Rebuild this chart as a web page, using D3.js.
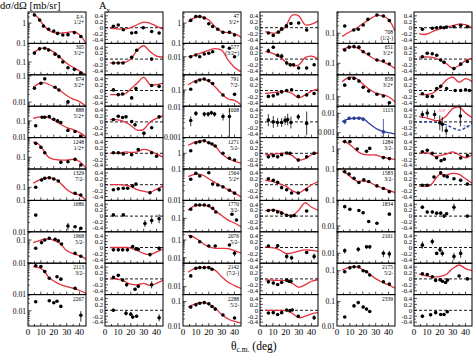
<!DOCTYPE html>
<html>
<head>
<meta charset="utf-8">
<script src="https://cdn.jsdelivr.net/npm/d3@7"></script>
<style>
  body { margin: 0; background: #fff; }
  svg { display: block; font-family: "Liberation Serif", "DejaVu Serif", serif; }
</style>
</head>
<body>
<svg id="fig" width="474" height="354"></svg>
<script>
// angles and tick labels
const angleTicks = [0, 10, 20, 30, 40];
const fitAngles = [4, 8, 12, 16, 20, 25, 30, 35, 40, 45];
const ayTicks = [0.4, 0.2, 0, -0.2, -0.4];

// ---------- column group A ----------
const labelsA = [["g.s.", "1/2+"], ["305", "3/2+"], ["674", "3/2+"], ["888", "5/2+"], ["1248", "1/2+"],
  ["1329", "7/2-"], ["1686", ""], ["1968", "5/2-"], ["2113", "3/2-"], ["2267", ""]];
const xsDomainA = [[0.1, 3.5], [0.032, 0.52], [0.007, 0.11], [0.01, 0.76], [0.026, 0.97],
  [0.03, 0.54], [0.01, 0.1], [0.01, 0.225], [0.01, 0.1], [0.0025, 0.044]];
const xsTicksA = [[1, 0.1], [0.1], [0.1, 0.01], [0.1, 0.01], [0.1], [0.1], [0.1, 0.01], [0.1, 0.01], [0.01], [0.01]];
const xsDataA = [
  [[5, 2.5], [9, 1.4], [12, 0.71], [16, 0.5], [20, 0.41], [23, 0.31], [27, 0.26], [31, 0.27], [36, 0.34], [41, 0.22]],
  [[5, 0.22], [9, 0.32], [13, 0.34], [16, 0.29], [21, 0.2], [24, 0.16], [27, 0.1], [31, 0.06], [36, 0.052], [41, 0.037]],
  [[5, 0.034], [10, 0.052], [13, 0.077], [21, 0.037], [24, 0.029], [31, 0.0102, 0.002]],
  [[6, 0.051], [11, 0.165], [13, 0.165], [16.5, 0.18], [20, 0.125], [23, 0.1], [25.5, 0.08], [31, 0.027], [36.5, 0.023], [41, 0.012]],
  [[6, 0.5], [10, 0.32], [13, 0.17], [25.5, 0.056], [31, 0.06], [36.5, 0.079], [41, 0.041]],
  [[6, 0.1], [10.5, 0.195], [13, 0.23], [16.5, 0.24], [20, 0.215], [23.5, 0.18], [36.5, 0.058], [41, 0.049]],
  [[6, 0.034], [31, 0.0153, 0.004], [36.5, 0.0145], [41, 0.0129]],
  [[6, 0.044], [10.5, 0.077], [13, 0.1], [16.5, 0.118], [21, 0.107], [23.5, 0.093], [26, 0.067], [36.5, 0.027], [41, 0.02]],
  [[6, 0.083], [10, 0.078], [13, 0.054], [16.5, 0.033], [22.5, 0.037], [25.5, 0.031], [36.5, 0.016]],
  [[6, 0.023], [16.5, 0.025], [20, 0.021], [22.5, 0.024], [25.5, 0.015], [41, 0.0067, 0.003]]
];
const xsFitA = [
  [3.0, 1.75, 0.8, 0.45, 0.34, 0.32, 0.34, 0.38, 0.27, 0.1],
  [0.22, 0.3, 0.35, 0.31, 0.24, 0.15, 0.09, 0.062, 0.045, 0.032],
  [0.037, 0.05, 0.055, 0.048, 0.038, 0.027, 0.018, 0.013, 0.0105, 0.007],
  [0.14, 0.17, 0.18, 0.16, 0.11, 0.065, 0.04, 0.03, 0.02, 0.011],
  [0.6, 0.46, 0.23, 0.1, 0.078, 0.073, 0.073, 0.078, 0.062, 0.028],
  [0.145, 0.19, 0.23, 0.24, 0.23, 0.15, 0.082, 0.057, 0.049, 0.031],
  null,
  [0.077, 0.09, 0.105, 0.108, 0.097, 0.07, 0.035, 0.026, 0.021, 0.015],
  [0.078, 0.073, 0.06, 0.036, 0.027, 0.021, 0.018, 0.016, 0.0135, 0.011],
  null
];
const ayDataA = [
  [[6.5, 0.05, 0.03], [10.3, 0.09, 0.03], [14.2, -0.07, 0.03], [20.7, -0.18, 0.03], [24, -0.16, 0.03], [29.7, 0.0, 0.03], [36.2, -0.13, 0.03], [42, -0.18, 0.04]],
  [[6.5, -0.13, 0.03], [10.3, -0.13, 0.03], [14, -0.13, 0.03], [20.7, 0.06, 0.03], [24.6, 0.3, 0.04], [36.2, 0.0, 0.04]],
  [[6.5, 0.02, 0.04], [10.3, -0.14, 0.04], [13.7, -0.12, 0.04], [20.7, -0.25, 0.06], [24, 0.07, 0.05], [36.2, 0.17, 0.05], [42, 0.14, 0.05]],
  [[6.5, 0.08, 0.03], [10.3, 0.19, 0.03], [13.7, 0.15, 0.03], [16.3, 0.17, 0.03], [20.7, 0.01, 0.03], [23.3, -0.1, 0.03], [30.2, -0.38, 0.04], [36.2, -0.2, 0.04], [42, 0.17, 0.05]],
  [[6.5, 0.02, 0.03], [10.3, 0.02, 0.03], [14.2, -0.02, 0.03], [20.7, -0.05, 0.03], [25.8, 0.13, 0.04], [36.2, 0.02, 0.04], [40, -0.1, 0.05]],
  [[6.5, -0.17, 0.03], [10.3, -0.14, 0.03], [14.2, -0.12, 0.03], [17.6, -0.12, 0.03], [21.5, -0.04, 0.03], [24, 0.02, 0.03], [34.9, -0.27, 0.04], [42, -0.17, 0.05]],
  [[6.5, 0.04, 0.04], [14.2, 0.04, 0.04], [31, -0.25, 0.12], [36.2, -0.15, 0.12], [42, -0.09, 0.15]],
  [[6.5, -0.08, 0.03], [10.3, -0.08, 0.03], [13.7, -0.08, 0.03], [17.4, -0.08, 0.03], [21.5, 0.03, 0.03], [24, -0.05, 0.03], [25.8, -0.06, 0.03], [34.9, -0.24, 0.06], [42, -0.03, 0.06]],
  [[6.5, 0.05, 0.03], [10.3, 0.12, 0.03], [13.7, -0.04, 0.04], [16.8, -0.2, 0.06], [23.3, -0.35, 0.05], [25.8, -0.25, 0.06], [36.2, -0.2, 0.12]],
  [[6.5, 0.0, 0.06], [16.3, -0.1, 0.08], [20, -0.13, 0.06], [21.5, -0.23, 0.05], [24.5, -0.2, 0.05], [42, -0.25, 0.12]]
];
const ayFitA = [
  [-0.02, -0.03, -0.05, -0.04, 0.0, 0.1, 0.19, 0.15, 0.05, -0.05],
  [-0.13, -0.13, -0.12, -0.1, 0.0, 0.3, 0.45, 0.25, 0.1, 0.07],
  [-0.14, -0.14, -0.14, -0.1, 0.05, 0.25, 0.44, 0.2, 0.2, 0.25],
  [0.08, 0.08, 0.05, -0.02, -0.12, -0.28, -0.25, 0.0, 0.12, 0.2],
  [0.0, 0.0, 0.02, 0.05, 0.03, 0.05, 0.13, 0.08, -0.03, -0.12],
  [0.0, 0.0, 0.0, -0.02, -0.06, -0.17, -0.22, -0.25, -0.15, -0.05],
  null,
  [0, 0, 0, 0, -0.02, -0.1, -0.2, -0.24, -0.15, -0.05],
  [0.02, 0.0, -0.03, -0.1, -0.18, -0.2, -0.15, -0.22, -0.15, -0.05],
  null
];

// ---------- column group B ----------
const labelsB = [["47", "3/2+"], ["577", "(3/2+)"], ["791", "7/2-"], ["1008", ""], ["1271", "5/2-"],
  ["1564", "5/2+"], ["1770", "3/2-"], ["2076", "5/2-"], ["2142", "(7/2-)"], ["2288", "5/2-"]];
const xsDomainB = [[0.1, 3.5], [0.0019, 0.034], [0.0115, 0.76], [0.001, 0.01], [0.235, 4.25],
  [0.01, 0.1], [0.029, 0.52], [0.0049, 0.29], [0.0048, 0.087], [0.0105, 0.19]];
const xsTicksB = [[1, 0.1], [0.01], [0.1, 0.01], [0.001], [1], [0.1, 0.01], [0.1], [0.1, 0.01], [0.01], [0.1, 0.01]];
const xsDataB = [
  [[6, 1.35], [10, 2.1], [13, 2.1], [16.5, 1.78], [20, 0.92], [23, 0.68], [27, 0.5], [31, 0.35], [36, 0.35], [40, 0.26]],
  [[6, 0.01], [10, 0.0117], [13, 0.01], [16.5, 0.0128], [20, 0.0137], [23, 0.0158], [31, 0.025], [36, 0.0217], [40, 0.01]],
  [[6, 0.11], [10, 0.3], [13, 0.38], [16.5, 0.43], [20, 0.35], [23, 0.24], [31, 0.051], [40, 0.056]],
  [[6, 0.0035, 0.0012], [10, 0.0059, 0.001], [16.5, 0.0056, 0.001], [19.5, 0.0056, 0.001], [22, 0.0062, 0.001], [24.5, 0.0056, 0.001], [31, 0.0047, 0.0012], [36, 0.0047, 0.004]],
  [[6, 1.27], [10, 2.65], [13, 2.9], [16.5, 3.2], [20, 2.65], [22.5, 2.35], [25, 1.96], [31, 1.0], [36, 0.63], [40, 0.54]],
  [[6, 0.047], [10, 0.073], [13, 0.06], [20, 0.076], [23, 0.033], [27, 0.031], [31, 0.027], [36, 0.021], [40, 0.017]],
  [[6, 0.23], [10, 0.34], [13, 0.34], [16.5, 0.34], [20, 0.32], [23, 0.25], [25.5, 0.18], [38, 0.145], [41.5, 0.086]],
  [[6, 0.155], [13, 0.08], [20, 0.046], [25, 0.046], [36, 0.052], [40, 0.018, 0.006]],
  [[6, 0.027], [10, 0.054], [13, 0.058], [16.5, 0.058], [20, 0.058], [22.5, 0.05]],
  [[6, 0.06], [10, 0.074], [13, 0.086], [16.5, 0.091], [20, 0.081], [22.5, 0.063], [25, 0.05], [31, 0.029], [40, 0.022]]
];
const xsFitB = [
  [1.15, 1.7, 2.1, 1.9, 1.4, 0.65, 0.38, 0.34, 0.3, 0.2],
  [0.01, 0.011, 0.013, 0.0155, 0.018, 0.021, 0.018, 0.0074, 0.0037, 0.0025],
  [0.2, 0.3, 0.4, 0.42, 0.32, 0.15, 0.06, 0.03, 0.025, 0.014],
  null,
  [2.1, 2.6, 3.1, 3.2, 2.6, 1.9, 0.95, 0.62, 0.48, 0.4],
  [0.057, 0.066, 0.069, 0.062, 0.049, 0.037, 0.028, 0.022, 0.017, 0.013],
  [0.21, 0.3, 0.34, 0.33, 0.3, 0.2, 0.13, 0.085, 0.065, 0.046],
  [0.19, 0.15, 0.1, 0.06, 0.042, 0.034, 0.034, 0.033, 0.025, 0.018],
  [0.038, 0.05, 0.058, 0.058, 0.058, 0.045, 0.025, 0.015, 0.011, 0.0085],
  [0.06, 0.075, 0.088, 0.09, 0.08, 0.055, 0.03, 0.02, 0.016, 0.014]
];
const ayDataB = [
  [[6.5, -0.18, 0.03], [10.3, -0.26, 0.03], [14.2, -0.15, 0.03], [16.8, -0.05, 0.03], [20.5, 0.06, 0.03], [24, 0.14, 0.04], [30, 0.16, 0.04], [36.2, -0.08, 0.04]],
  [[6.5, 0.28, 0.08], [10.3, 0.4, 0.06], [13.7, 0.13, 0.06], [16.8, 0.1, 0.08], [20.7, -0.13, 0.08], [23.5, -0.19, 0.06], [26, -0.19, 0.05], [30, -0.3, 0.04], [36.2, -0.3, 0.04], [42, -0.19, 0.05]],
  [[6.5, -0.2, 0.03], [10.3, -0.18, 0.03], [13.7, -0.12, 0.03], [16.8, -0.05, 0.03], [20.7, 0.0, 0.03], [24.5, 0.02, 0.03], [29.7, -0.2, 0.04], [36.2, -0.15, 0.04], [42, -0.1, 0.05]],
  [[6.5, 0.06, 0.2], [10.3, 0.0, 0.2], [13.7, -0.02, 0.15], [16.8, -0.02, 0.15], [19.5, 0.05, 0.15], [21.5, 0.08, 0.2], [24, -0.02, 0.2], [29.7, 0.17, 0.1], [36.2, -0.05, 0.4]],
  [[6.5, -0.12, 0.03], [10.3, -0.08, 0.03], [13.7, -0.12, 0.03], [16.8, -0.05, 0.03], [20.7, 0.01, 0.03], [23.3, 0.0, 0.03], [29.7, -0.23, 0.04], [36.2, -0.12, 0.04], [42, 0.0, 0.05]],
  [[6.5, 0.2, 0.03], [10.3, 0.15, 0.03], [13.7, 0.08, 0.03], [16.8, -0.1, 0.03], [20.7, -0.17, 0.04], [24.5, -0.28, 0.04], [29.7, -0.28, 0.04], [36.2, -0.17, 0.06]],
  [[6.5, 0.19, 0.03], [10.3, 0.2, 0.03], [13.7, 0.14, 0.03], [16.8, 0.1, 0.03], [20.7, 0.03, 0.03], [24, 0.0, 0.03], [26.5, 0.02, 0.03], [36.2, 0.17, 0.04]],
  [[6.5, 0.05, 0.04], [13.7, 0.06, 0.04], [20.7, -0.3, 0.1], [24.5, -0.35, 0.08], [36.2, -0.17, 0.05], [42, -0.3, 0.1]],
  [[6.5, -0.1, 0.05], [10.3, -0.14, 0.05], [13.7, -0.19, 0.05], [16.8, -0.12, 0.04], [20.7, -0.04, 0.03], [22.5, -0.08, 0.04], [24, -0.08, 0.04]],
  [[6.5, -0.09, 0.03], [10.3, -0.08, 0.03], [13.7, -0.14, 0.03], [16.8, -0.08, 0.03], [20.7, 0.01, 0.03], [23.3, -0.01, 0.03], [25, 0.01, 0.03], [29.7, -0.2, 0.05], [42, -0.25, 0.08]]
];
const ayFitB = [
  [-0.13, -0.17, -0.18, -0.1, 0.05, 0.42, 0.4, 0.1, 0.12, 0.22],
  [0.25, 0.22, 0.15, 0.05, -0.1, -0.22, -0.2, 0.05, 0.1, 0.0],
  [-0.1, -0.08, -0.06, -0.04, -0.03, -0.1, -0.25, -0.15, -0.02, 0.05],
  null,
  [-0.05, -0.04, -0.02, 0.0, 0.0, -0.08, -0.23, -0.18, -0.05, 0.02],
  [0.15, 0.12, 0.08, 0.02, -0.05, -0.2, -0.28, -0.15, 0.0, 0.1],
  [0.18, 0.2, 0.2, 0.15, 0.05, 0.02, 0.2, 0.45, 0.3, 0.2],
  [0.02, 0.0, -0.03, -0.1, -0.2, -0.18, -0.12, -0.08, -0.1, -0.13],
  [-0.03, -0.04, -0.05, -0.05, -0.06, -0.15, -0.28, -0.2, -0.08, -0.02],
  [0, 0, 0, 0, -0.01, -0.1, -0.25, -0.2, -0.12, -0.08]
];

// ---------- column group C ----------
const labelsC = [["708", "(1/2-)"], ["651", "3/2+"], ["858", "3/2+"], ["1113", ""], ["1284", "3/2-"],
  ["1583", "3/2-"], ["1834", ""], ["2101", ""], ["2175", "5/2-"], ["2339", ""]];
const xsDomainC = [[0.039, 0.71], [0.035, 0.62], [0.042, 0.75], [0.00056, 0.023], [0.1, 3.7],
  [0.1, 1], [0.0059, 0.1], [0.004, 0.072], [0.011, 0.2], [0.0105, 0.19]];
const xsTicksC = [[0.1], [0.1], [0.1], [0.01, 0.001], [1, 0.1], [0.1], [0.01], [0.01], [0.1], [0.1, 0.01]];
const xsDataC = [
  [[6, 0.196], [13, 0.135], [16.5, 0.145], [20.3, 0.215], [24, 0.36], [31, 0.54], [36, 0.49], [40.6, 0.32]],
  [[6, 0.34], [9.4, 0.44], [13.2, 0.46], [17, 0.44], [20.3, 0.29], [24.6, 0.235], [31, 0.135], [36, 0.124], [40.6, 0.094]],
  [[6, 0.29], [9.4, 0.54], [13.2, 0.54], [17, 0.42], [20.3, 0.24], [24.6, 0.17], [31, 0.125], [36, 0.107], [40.6, 0.058]],
  [[6, 0.0037, 0.001], [9.4, 0.0055, 0.001], [13.2, 0.0055, 0.001], [17, 0.0055, 0.001], [20.3, 0.0049, 0.001], [36, 0.0011, 0.004]],
  [[6, 2.33], [10, 2.33], [15.7, 1.0], [22.9, 0.77], [25.4, 1.07], [36, 0.37], [40.6, 0.33]],
  [[6, 0.82], [9.4, 0.69], [13.2, 0.51], [17, 0.37], [20.8, 0.45], [24.6, 0.4], [31, 0.29], [36, 0.24], [40.6, 0.19]],
  [[6, 0.057], [10, 0.045], [17, 0.04], [20.3, 0.033], [24.6, 0.015], [31, 0.0127], [40.6, 0.029]],
  [[6, 0.0127, 0.003], [16.5, 0.0145, 0.003], [22.9, 0.018, 0.003], [25.4, 0.018, 0.003], [36, 0.01, 0.003], [40.6, 0.0094, 0.003]],
  [[6, 0.091], [10, 0.13], [13.2, 0.145], [17, 0.145], [20.3, 0.1], [22.9, 0.091], [25.4, 0.067], [36, 0.036], [40.6, 0.029]],
  [[6, 0.024], [13.2, 0.067], [16.5, 0.091], [20.3, 0.06], [22.9, 0.05], [25.4, 0.04]]
];
const xsFitC = [
  [0.075, 0.1, 0.13, 0.17, 0.24, 0.36, 0.5, 0.5, 0.36, 0.12],
  [0.36, 0.42, 0.46, 0.4, 0.3, 0.2, 0.14, 0.12, 0.09, 0.063],
  [0.4, 0.55, 0.6, 0.5, 0.32, 0.2, 0.14, 0.12, 0.1, 0.063],
  [0.0037, 0.0048, 0.0055, 0.0056, 0.0055, 0.003, 0.0017, 0.0012, 0.001, 0.00085],
  [2.4, 2.0, 1.3, 0.75, 0.55, 0.5, 0.5, 0.4, 0.34, 0.3],
  [0.85, 0.7, 0.5, 0.4, 0.42, 0.38, 0.3, 0.25, 0.21, 0.18],
  null,
  null,
  [0.105, 0.13, 0.145, 0.14, 0.11, 0.075, 0.048, 0.035, 0.027, 0.02],
  null
];
const ayDataC = [
  [[6.5, -0.05, 0.03], [14.2, -0.02, 0.03], [17.6, 0.0, 0.03], [20.7, 0.01, 0.03], [23.3, 0.0, 0.03], [25.3, 0.02, 0.03], [31, 0.03, 0.03], [36.2, 0.08, 0.03], [41.4, 0.03, 0.03]],
  [[6.5, 0.08, 0.03], [10.3, 0.2, 0.03], [14.2, 0.18, 0.03], [17.6, 0.13, 0.03], [20.7, -0.03, 0.03], [23.3, -0.11, 0.03], [31, -0.32, 0.04], [36.2, -0.17, 0.06], [41.4, -0.08, 0.04]],
  [[6.5, -0.11, 0.03], [10.3, -0.2, 0.03], [14.2, -0.2, 0.03], [17.6, 0.07, 0.04], [20.7, 0.14, 0.06], [25.3, 0.07, 0.04], [32, 0.0, 0.03], [36.2, 0.0, 0.03], [40, 0.02, 0.03], [43, 0.0, 0.03]],
  [[6.5, 0.25, 0.12], [10.3, 0.3, 0.15], [16, 0.25, 0.15], [20, -0.03, 0.25], [22, -0.08, 0.25], [25, -0.3, 0.15], [36, 0.2, 0.35]],
  [[6.5, 0.05, 0.03], [10.3, 0.1, 0.03], [14.2, 0.0, 0.03], [17.6, -0.15, 0.03], [21, -0.25, 0.04], [23.5, -0.2, 0.04], [36.2, -0.16, 0.04], [41.4, -0.08, 0.04]],
  [[6.5, -0.02, 0.03], [10.3, -0.02, 0.03], [15.5, 0.26, 0.04], [20.7, 0.4, 0.04], [23.3, 0.3, 0.04], [25.8, 0.27, 0.04], [31, 0.2, 0.04], [36.2, 0.15, 0.04], [41.4, 0.02, 0.04]],
  [[6.5, 0.3, 0.06], [10.3, 0.14, 0.05], [14.2, 0.14, 0.05], [17.6, 0.1, 0.05], [20.7, 0.1, 0.05], [23.3, 0.0, 0.05], [25.3, 0.08, 0.05], [31, 0.3, 0.12], [41.4, 0.0, 0.04]],
  [[6.5, 0.08, 0.12], [14.2, 0.2, 0.1], [17.6, -0.2, 0.05], [20.2, -0.08, 0.08], [22, -0.2, 0.1], [31, -0.3, 0.12], [36.2, -0.2, 0.15]],
  [[6.5, 0.17, 0.03], [10.3, 0.15, 0.03], [14.2, 0.07, 0.03], [16.8, -0.05, 0.03], [20.2, -0.03, 0.03], [22, -0.08, 0.03], [24.5, -0.12, 0.03], [26, -0.04, 0.03], [35, 0.1, 0.04], [41.4, 0.0, 0.03]],
  [[6.5, -0.2, 0.06], [12.9, -0.15, 0.05], [16.8, -0.08, 0.04], [20.7, -0.14, 0.04], [23.3, -0.14, 0.04], [25.8, -0.05, 0.04]]
];
const ayFitC = [
  [-0.2, -0.23, -0.18, -0.1, -0.04, 0.02, 0.07, 0.12, 0.1, 0.0],
  [0.06, 0.07, 0.07, 0.04, -0.03, -0.15, -0.3, -0.22, -0.05, 0.02],
  [-0.14, -0.14, -0.12, -0.05, 0.1, 0.35, 0.45, 0.28, 0.4, 0.3],
  [0.18, 0.15, 0.1, 0.05, 0.05, 0.2, 0.45, 0.5, 0.3, 0.15],
  [0.0, 0.02, 0.0, -0.1, -0.08, -0.03, 0.05, -0.05, -0.15, -0.05],
  [-0.05, -0.05, -0.04, 0.15, 0.35, 0.33, 0.38, 0.35, 0.2, 0.05],
  null,
  null,
  [0.17, 0.12, 0.08, 0.07, 0.08, 0.15, 0.35, 0.47, 0.35, 0.28],
  null
];
// second (7/2-) calculation for the 1113 state, drawn dashed
const ayFitAlt1113 = [0.0, 0.0, 0.0, -0.01, -0.03, -0.1, -0.2, -0.28, -0.2, -0.05];

// ---------- layout ----------
const W = 58, H = 31.4, top0 = 12;
const xsLeft = [28, 183, 337], ayLeft = [105, 260, 414];
const red = "#e3303c", blue = "#2d3c9c";

const groups = [
  {labels: labelsA, dom: xsDomainA, ticks: xsTicksA, xs: xsDataA, xsFit: xsFitA, ay: ayDataA, ayFit: ayFitA},
  {labels: labelsB, dom: xsDomainB, ticks: xsTicksB, xs: xsDataB, xsFit: xsFitB, ay: ayDataB, ayFit: ayFitB},
  {labels: labelsC, dom: xsDomainC, ticks: xsTicksC, xs: xsDataC, xsFit: xsFitC, ay: ayDataC, ayFit: ayFitC}
];

const svg = d3.select("#fig");
svg.append("defs").append("clipPath").attr("id", "pclip")
  .append("rect").attr("width", W).attr("height", H);

const x = d3.scaleLinear().domain([0, 45]).range([0, W]);

function frame(g, last) {
  // x ticks every 5 deg, pointing inward from the bottom
  d3.range(5, 45, 5).forEach(t => {
    const len = t % 10 === 0 ? 3 : 2;
    g.append("line").attr("x1", x(t)).attr("x2", x(t)).attr("y1", H).attr("y2", H - len)
      .attr("stroke", "#000").attr("stroke-width", 0.7);
  });
  g.append("rect").attr("width", W).attr("height", H)
    .attr("fill", "none").attr("stroke", "#000").attr("stroke-width", 1);
  if (last) {
    angleTicks.forEach(t => {
      g.append("text").attr("x", x(t)).attr("y", H + 9.5).attr("text-anchor", "middle")
        .attr("font-size", 9).text(t);
    });
  }
}

function drawPoints(g, y, pts, color, lo) {
  const cg = g.append("g").attr("clip-path", "url(#pclip)");
  pts.forEach(p => {
    if (p[2]) {
      const a = lo === undefined ? p[1] - p[2] : Math.max(p[1] - p[2], lo);
      cg.append("line").attr("x1", x(p[0])).attr("x2", x(p[0]))
        .attr("y1", y(a)).attr("y2", y(p[1] + p[2]))
        .attr("stroke", color).attr("stroke-width", 0.8);
    }
    cg.append("circle").attr("cx", x(p[0])).attr("cy", y(p[1])).attr("r", 1.8).attr("fill", color);
  });
}

function drawFit(g, y, vals, color, dash) {
  const line = d3.line().x((d, i) => x(fitAngles[i])).y(d => y(d)).curve(d3.curveCatmullRom.alpha(0.5));
  g.append("g").attr("clip-path", "url(#pclip)").append("path")
    .attr("d", line(vals)).attr("fill", "none").attr("stroke", color)
    .attr("stroke-width", 1.3).attr("stroke-dasharray", dash || null);
}

groups.forEach((grp, gi) => {
  for (let r = 0; r < 10; r++) {
    const top = top0 + r * H;
    const last = r === 9;
    const special = gi === 2 && r === 3;

    // ---- cross section panel ----
    const gx = svg.append("g").attr("transform", `translate(${xsLeft[gi]},${top})`);
    const dom = grp.dom[r];
    const y = d3.scaleLog().domain(dom).range([H, 0]);
    y.ticks().forEach(t => {
      const major = Math.abs(Math.log10(t) - Math.round(Math.log10(t))) < 1e-6;
      gx.append("line").attr("x1", 0).attr("x2", major ? 3.5 : 1.8).attr("y1", y(t)).attr("y2", y(t))
        .attr("stroke", "#000").attr("stroke-width", 0.7);
    });
    grp.ticks[r].forEach(t => {
      gx.append("text").attr("x", -2).attr("y", y(t) + 2.8).attr("text-anchor", "end")
        .attr("font-size", 7.6).text(String(t));
    });
    if (grp.xsFit[r]) drawFit(gx, y, grp.xsFit[r], special ? blue : red);
    drawPoints(gx, y, grp.xs[r], special ? blue : "#000", dom[0]);
    const lab = grp.labels[r];
    const low = gi === 2 && r === 0;
    gx.append("text").attr("x", W - 2).attr("y", low ? H - 9 : 6).attr("text-anchor", "end")
      .attr("font-size", 5.5).text(lab[0]);
    if (lab[1]) {
      gx.append("text").attr("x", W - 2).attr("y", low ? H - 3 : 12).attr("text-anchor", "end")
        .attr("font-size", 5.5).text(lab[1]);
    }
    frame(gx, last);

    // ---- analyzing power panel ----
    const ga = svg.append("g").attr("transform", `translate(${ayLeft[gi]},${top})`);
    const ya = d3.scaleLinear().domain([-0.53, 0.53]).range([H, 0]);
    d3.range(-4, 5).forEach(k => {
      ga.append("line").attr("x1", 0).attr("x2", k % 2 === 0 ? 3 : 1.8)
        .attr("y1", ya(k / 10)).attr("y2", ya(k / 10)).attr("stroke", "#000").attr("stroke-width", 0.7);
    });
    ayTicks.forEach(t => {
      ga.append("text").attr("x", -2).attr("y", ya(t) + 2.3).attr("text-anchor", "end")
        .attr("font-size", 6.6).text(t === 0 ? "0" : String(t));
    });
    ga.append("line").attr("x1", 0).attr("x2", W).attr("y1", ya(0)).attr("y2", ya(0))
      .attr("stroke", "#000").attr("stroke-width", 0.9).attr("stroke-dasharray", "3,2");
    if (grp.ayFit[r]) drawFit(ga, ya, grp.ayFit[r], red);
    if (special) {
      drawFit(ga, ya, ayFitAlt1113, blue, "3,2");
      ga.append("text").attr("x", x(19)).attr("y", 6).attr("font-size", 5).attr("fill", red).text("5/2-");
      ga.append("text").attr("x", W - 1).attr("y", 22).attr("text-anchor", "end")
        .attr("font-size", 5).attr("fill", blue).text("7/2-");
    }
    drawPoints(ga, ya, grp.ay[r], "#000");
    frame(ga, last);
  }
});

// axis titles
const t1 = svg.append("text").attr("x", 0).attr("y", 9).attr("font-size", 10.5);
t1.text("dσ/dΩ  [mb/sr]");
const t2 = svg.append("text").attr("x", 99).attr("y", 9).attr("font-size", 10.5);
t2.append("tspan").text("A");
t2.append("tspan").attr("font-size", 7).attr("dy", 3).text("y");
const t3 = svg.append("text").attr("x", 231).attr("y", 349.5).attr("font-size", 11.5);
t3.append("tspan").text("θ");
t3.append("tspan").attr("font-size", 7.5).attr("dy", 2.5).text("c.m.");
t3.append("tspan").attr("dy", -2.5).text(" (deg)");
</script>
</body>
</html>
